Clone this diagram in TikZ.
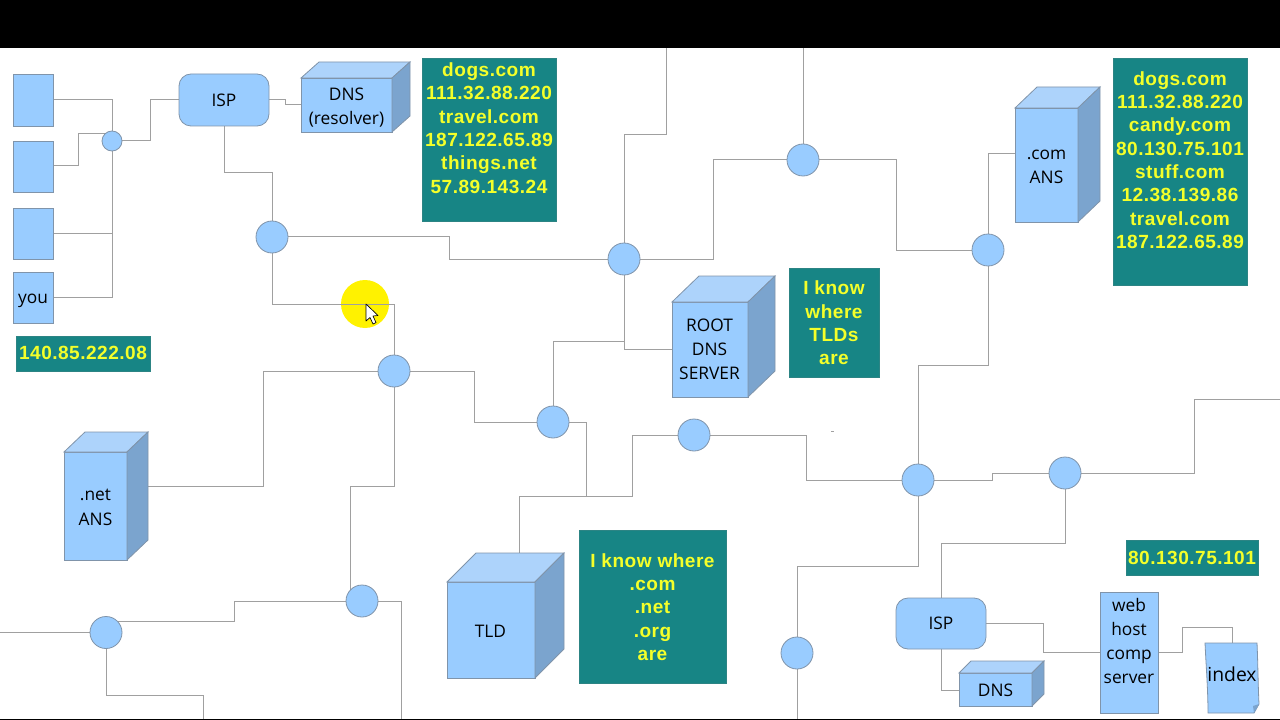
\documentclass[tikz,border=0pt]{standalone}
\usepackage{fontspec}
\setmainfont{Open Sans}
\newfontfamily\boldsans{Liberation Sans}[LetterSpace=2.6]
\usetikzlibrary{backgrounds}
\definecolor{fillblue}{HTML}{99CCFF}
\definecolor{topblue}{HTML}{ADD3FB}
\definecolor{sideblue}{HTML}{7BA4CE}
\definecolor{edgegrey}{HTML}{8094AA}
\definecolor{wiregrey}{HTML}{A0A0A0}
\definecolor{tealbox}{HTML}{178585}
\definecolor{yellowtext}{HTML}{F4FF2A}
\tikzset{
  sized/.style n args={2}{minimum width=#1*0.75pt,minimum height=#2*0.75pt,inner sep=0pt,outer sep=0pt},
  bluebox/.style={draw=edgegrey,fill=fillblue,line width=0.6pt,font=\fontsize{13}{18.2}\selectfont,align=center,text=black},
  roundbox/.style={bluebox,rounded corners=9pt},
  junction/.style={circle,draw=edgegrey,fill=fillblue,line width=0.6pt,minimum size=#1*1.5pt,inner sep=0pt,outer sep=0pt},
  topface/.style={draw=edgegrey,fill=topblue,line width=0.6pt},
  sideface/.style={draw=edgegrey,fill=sideblue,line width=0.6pt},
  wire/.style={draw=wiregrey,line width=0.75pt},
  infobox/.style={fill=tealbox,draw=tealbox!80!gray,line width=0.6pt},
  infotext/.style={text=yellowtext,font=\boldsans\bfseries\fontsize{14.3}{17.5}\selectfont,align=center,inner sep=0pt},
  label/.style={font=\fontsize{13}{18.2}\selectfont,align=center,text=black,inner sep=0pt},
}
% name, left, top, width, height, dx, dy
\newcommand{\cubebox}[7]{%
  \node[bluebox,sized={#4}{#5},anchor=north west] (#1) at (#2,#3) {};
  \draw[topface] (#1.north west) -- ++(#6,#7) -- ++(#4,0) -- (#1.north east) -- cycle;
  \draw[sideface] (#1.north east) -- ++(#6,#7) -- ++(0,#5) -- (#1.south east) -- cycle;
}
\begin{document}
\begin{tikzpicture}[x=0.75pt,y=-0.75pt]
\useasboundingbox (0,0) rectangle (1280,720);

% plain computers
\node[bluebox,sized={40}{52},anchor=north west] (pc1) at (13.5,74) {};
\node[bluebox,sized={40}{51},anchor=north west] (pc2) at (13.5,141) {};
\node[bluebox,sized={40}{51},anchor=north west] (pc3) at (13.5,208) {};
\node[bluebox,sized={40}{51},anchor=north west] (you) at (13.5,272) {};
\node[label] at (33,301) {you};
\node[junction=10] (hub) at (112,141) {};

% ISPs, servers
\node[roundbox,sized={90}{52},anchor=north west] (isp) at (179,74) {ISP};
\cubebox{resolver}{301}{78}{91}{54}{18}{-16}
\node[label] at (346.5,107.5) {DNS\\(resolver)};
\cubebox{comans}{1015}{108}{63}{114}{22}{-21}
\node[label] at (1046.5,167) {.com\\ANS};
\cubebox{root}{672}{302}{76}{95}{27}{-26}
\node[label] at (709.5,349.5) {ROOT\\DNS\\SERVER};
\cubebox{netans}{64}{452}{63}{108}{21}{-20}
\node[label] at (95.5,507.5) {.net\\ANS};
\cubebox{tld}{447}{582}{88}{96}{29}{-29}
\node[label] at (490.5,631) {TLD};
\node[roundbox,sized={90}{51},anchor=north west] (isptwo) at (896,598) {ISP};
\cubebox{dnstwo}{959}{673}{73}{33}{12}{-12}
\node[label] at (995.5,690) {DNS};
\node[bluebox,sized={58}{121},anchor=north west] (web) at (1100,592) {};
\node[label] at (1129,641) {web\\host\\comp\\server};
\draw[bluebox] (1205,643) -- (1257,643) .. controls (1258,665) and (1258,685) .. (1259,704)
  -- (1254,713) -- (1208,713) .. controls (1208,690) and (1206,665) .. (1205,643) -- cycle;
\fill[sideblue] (1259,704) -- (1254,713) -- (1253,706) -- cycle;
\node[font=\fontsize{14.5}{17}\selectfont,inner sep=0pt] (index) at (1232,674) {index};
\coordinate (indextop) at (1232,643);

% junctions
\node[junction=16] (ja) at (272,237) {};
\node[junction=16] (jb) at (624,259) {};
\node[junction=16] (jc) at (394,371) {};
\node[junction=16] (jd) at (803,160) {};
\node[junction=16] (je) at (988,250) {};
\node[junction=16] (jf) at (918,480) {};
\node[junction=16] (jg) at (553,422) {};
\node[junction=16] (jh) at (694,435) {};
\node[junction=16] (ji) at (1065,473) {};
\node[junction=16] (jj) at (797,653) {};
\node[junction=16] (jk) at (362,601) {};
\node[junction=16] (jl) at (106,632.5) {};

% free ends and ports
\coordinate (outa) at (666,48);
\coordinate (outb) at (803,48);
\coordinate (outc) at (1280,399);
\coordinate (outd) at (797,720);
\coordinate (oute) at (401,720);
\coordinate (outf) at (203,720);
\coordinate (outg) at (0,632.5);
\coordinate (comport) at (1016,154);
\coordinate (netport) at (148,486);
\coordinate (tldport) at (519,553);
\coordinate (tee) at (586,496);
\coordinate (rootsplit) at (624,341);

\begin{scope}[on background layer]
\fill[white] (0,0) rectangle (1280,720);
\fill[yellow] (365,304) circle (24);
\draw[wire] (pc1.east) -- (112,100) -- (hub.north);
\draw[wire] (pc2.east |- 0,166) -- (78,166) -- (78,134) -- (hub.center |- 0,134);
\draw[wire] (pc3.east |- 0,234) -- (112,234);
\draw[wire] (you.east |- 0,297) -- (112,297) -- (hub.south);
\draw[wire] (hub.east) -- (150,141) -- (150,100) -- (isp.west);
\draw[wire] (isp.east) -- (285,100) -- (285,105) -- (resolver.west);
\draw[wire] (isp.south) -- (224,173) -- (272,173) -- (ja.north);
\draw[wire] (ja.east) -- (449,237) -- (449,259) -- (jb.west);
\draw[wire] (ja.south) -- (272,304) -- (394,304) -- (jc.north);
\draw[wire] (jb.north) -- (624,135) -- (666,135) -- (outa);
\draw[wire] (jb.east) -- (713,259) -- (713,160) -- (jd.west);
\draw[wire] (jd.north) -- (outb);
\draw[wire] (jd.east) -- (896,160) -- (896,250) -- (je.west);
\draw[wire] (je.north) -- (988,154) -- (comport);
\draw[wire] (je.south) -- (988,365) -- (918,365) -- (jf.north);
\draw[wire] (jb.south) -- (624,349) -- (root.west |- 0,349);
\draw[wire] (rootsplit) -- (553,341) -- (jg.north);
\draw[wire] (jc.west) -- (263,371) -- (263,486) -- (netport);
\draw[wire] (jc.east) -- (474,371) -- (474,422) -- (jg.west);
\draw[wire] (jg.east) -- (586,422) -- (tee);
\draw[wire] (tldport) -- (519,496) -- (632,496) -- (632,435) -- (jh.west);
\draw[wire] (jh.east) -- (806,435) -- (806,480) -- (jf.west);
\draw[wire] (jf.east) -- (992,480) -- (992,473) -- (ji.west);
\draw[wire] (ji.east) -- (1194,473) -- (1194,399) -- (outc);
\draw[wire] (ji.south) -- (1065,543) -- (941,543) -- (isptwo.north);
\draw[wire] (jf.south) -- (918,566) -- (797,566) -- (jj.north);
\draw[wire] (jj.south) -- (outd);
\draw[wire] (jc.south) -- (394,486) -- (350,486) -- (350,601) -- (jk.center);
\draw[wire] (jk.east) -- (401,601) -- (oute);
\draw[wire] (jk.west) -- (234,601) -- (234,621) -- (jl.center |- 0,621);
\draw[wire] (jl.west) -- (outg);
\draw[wire] (jl.south) -- (106,695) -- (203,695) -- (outf);
\draw[wire] (isptwo.east) -- (1043,623.5) -- (1043,652.5) -- (web.west);
\draw[wire] (isptwo.south) -- (941,690) -- (dnstwo.west |- 0,690);
\draw[wire] (web.east) -- (1182,652.5) -- (1182,627) -- (1232,627) -- (indextop);
\end{scope}

% info boxes
\draw[infobox] (422,58) rectangle (556,221);
\node[infotext] (ia) at (489,128) {dogs.com\\111.32.88.220\\travel.com\\187.122.65.89\\things.net\\57.89.143.24};
\draw[infobox] (1113,58) rectangle (1247,285);
\node[infotext] (ib) at (1180,160) {dogs.com\\111.32.88.220\\candy.com\\80.130.75.101\\stuff.com\\12.38.139.86\\travel.com\\187.122.65.89};
\draw[infobox] (789,268) rectangle (879,377);
\node[infotext] (ic) at (834,323) {I know\\where\\TLDs\\are};
\draw[infobox] (579,530) rectangle (726,683);
\node[infotext] (id) at (652.5,607) {I know where\\.com\\.net\\.org\\are};
\draw[infobox] (16,336) rectangle (150,371);
\node[infotext] (ie) at (83,353) {140.85.222.08};
\draw[infobox] (1126,540) rectangle (1258,575);
\node[infotext] (if) at (1192,558) {80.130.75.101};

% speck and cursor
\fill[wiregrey] (830.5,430.5) rectangle (834,432);
\draw[black,fill=white,line width=0.5pt,line join=round] (366,304) -- (366,321) -- (370,317.5) -- (373,324) -- (376,322.5) -- (373,316) -- (378,315.5) -- cycle;

% video bars
\fill[black] (0,0) rectangle (1280,48);
\fill[black] (0,718.5) rectangle (1280,720);
\end{tikzpicture}
\end{document}
